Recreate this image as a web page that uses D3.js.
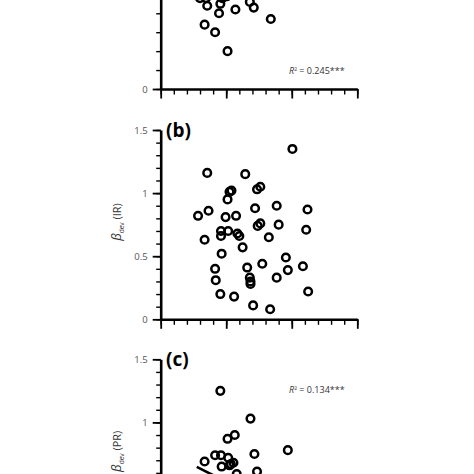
<!DOCTYPE html>
<html>
<head>
<meta charset="utf-8">
<script src="https://cdn.jsdelivr.net/npm/d3@7"></script>
<style>
  body { margin: 0; background: #fff; }
  text { font-family: "Open Sans", "Liberation Sans", sans-serif; }
</style>
</head>
<body>
<div id="canvas"></div>
<script>
// values (x has no visible labels, arbitrary 0..3 units)
var pointsA = [[0.71,0.44],[0.91,0.45],[0.89,0.40],[1.14,0.42],[1.36,0.46],[1.42,0.43],
  [1.68,0.37],[0.67,0.34],[0.83,0.30],[1.02,0.20],[0.60,0.48],[0.69,0.48],[0.94,0.48],[1.01,0.49]];

var pointsB = [[2.01,1.35],[0.71,1.16],[1.29,1.15],[1.52,1.05],[1.47,1.03],[1.08,1.02],
  [1.05,1.01],[1.02,0.95],[0.73,0.86],[0.57,0.82],[1.44,0.88],[1.77,0.90],[2.24,0.87],
  [1.15,0.82],[0.99,0.81],[1.80,0.75],[1.52,0.76],[1.48,0.74],[2.22,0.71],[0.92,0.70],
  [1.03,0.70],[0.92,0.66],[0.67,0.63],[1.17,0.68],[1.20,0.66],[1.65,0.65],[1.25,0.57],
  [0.93,0.52],[1.91,0.49],[1.55,0.44],[1.32,0.41],[0.83,0.40],[2.17,0.42],[1.94,0.39],
  [1.77,0.33],[0.84,0.31],[1.36,0.33],[1.37,0.30],[1.37,0.28],[2.25,0.22],[0.91,0.20],
  [1.12,0.18],[1.41,0.11],[1.67,0.08]];

var pointsC = [[0.91,1.25],[1.37,1.03],[1.13,0.90],[1.02,0.87],[1.94,0.78],[1.43,0.75],
  [0.67,0.69],[0.83,0.74],[0.92,0.74],[1.03,0.72],[1.11,0.68],[1.07,0.67],[0.93,0.65],
  [1.05,0.66],[1.47,0.61],[1.16,0.59],[1.20,0.55]];

var panelLabels = ["(a)", "(b)", "(c)"];
var yLabels = ["", "(IR)", "(PR)"];
var r2Labels = [" = 0.245***", "", " = 0.134***"];
var yDomains = [[0, 1], [0, 1.5], [0, 1.5]];
var yTickLabels = [[0], [0, 0.5, 1, 1.5], [0, 0.5, 1, 1.5]];
var yMinorStep = [0.1, 0.1, 0.1];
var xMajor = [0, 1, 2, 3];
var xMinorStep = 0.2;

// linear fit in panel (c)
var fitC = { from: 0.55, to: 2.2, intercept: 0.79, slope: -0.26 };

var W = 474, H = 474;
var svg = d3.select("#canvas").append("svg")
    .attr("width", W).attr("height", H);

var x = d3.scaleLinear().domain([0, 3]).range([160.7, 357.3]);
var panelTops = [-100.3, 130, 359.3], plotH = 189.3;

function inView(py) { return py > 6 && py < H - 6; }

function drawPanel(i, pts, fit) {
  var y = d3.scaleLinear().domain(yDomains[i])
      .range([panelTops[i] + plotH, panelTops[i]]);
  var g = svg.append("g");

  // minor ticks y
  var minorY = d3.range(yDomains[i][0], yDomains[i][1] + 1e-6, yMinorStep[i]);
  g.append("g")
      .attr("transform", "translate(" + x(0) + ",0)")
      .call(d3.axisLeft(y).tickValues(minorY).tickSize(4.5).tickFormat("").tickSizeOuter(0))
      .call(function(a) { a.select(".domain").remove(); a.selectAll("line").attr("stroke-width", 1.4); });

  // major y (only labels that land inside the window)
  var ya = g.append("g")
      .attr("transform", "translate(" + x(0) + ",0)")
      .call(d3.axisLeft(y).tickValues(yTickLabels[i]).tickSize(8).tickPadding(5)
        .tickFormat(d3.format("")).tickSizeOuter(0));
  ya.select(".domain").attr("stroke-width", 2.6);
  ya.selectAll("line").attr("stroke-width", 1.8);
  ya.selectAll("text").attr("font-size", 9.5).attr("fill", "#555");
  ya.selectAll(".tick").filter(function(d) { return !inView(y(d)); }).remove();

  // x axis
  var xMinor = d3.range(0, 3 + 1e-6, xMinorStep);
  g.append("g")
      .attr("transform", "translate(0," + y(0) + ")")
      .call(d3.axisBottom(x).tickValues(xMinor).tickSize(5.5).tickFormat("").tickSizeOuter(0))
      .call(function(a) { a.select(".domain").remove(); a.selectAll("line").attr("stroke-width", 1.4); });
  var xa = g.append("g")
      .attr("transform", "translate(0," + y(0) + ")")
      .call(d3.axisBottom(x).tickValues(xMajor).tickSize(9.5).tickFormat("").tickSizeOuter(0));
  xa.select(".domain").attr("stroke-width", 2.6);
  xa.selectAll("line").attr("stroke-width", 1.8);

  // panel label
  if (inView(panelTops[i])) {
    g.append("text")
        .attr("x", 166).attr("y", panelTops[i] + 7)
        .attr("font-size", 19).attr("font-weight", "bold")
        .text(panelLabels[i]);
  }

  // y label
  if (yLabels[i]) {
    var t = g.append("text")
        .attr("transform", "translate(121," + (panelTops[i] + 92) + ") rotate(-90)")
        .attr("text-anchor", "middle").attr("font-size", 11).attr("fill", "#333");
    t.append("tspan").attr("font-style", "italic").attr("font-size", 13).text("\u03B2");
    t.append("tspan").attr("font-size", 6.5).attr("dy", 2.5).text("dev");
    t.append("tspan").attr("dy", -2.5).text(" " + yLabels[i]);
  }

  // R2 note
  if (r2Labels[i]) {
    var ry = i === 0 ? y(0) - 15 : panelTops[i] + 34;
    var r = g.append("text").attr("x", 289).attr("y", ry)
        .attr("font-size", 9).attr("fill", "#333");
    r.append("tspan").attr("font-style", "italic").text("R");
    r.append("tspan").attr("font-size", 5).attr("dy", -3.5).text("2");
    r.append("tspan").attr("dy", 3.5).text(r2Labels[i]);
  }

  if (fit) {
    g.append("line")
        .attr("x1", x(fit.from)).attr("y1", y(fit.intercept + fit.slope * fit.from))
        .attr("x2", x(fit.to)).attr("y2", y(fit.intercept + fit.slope * fit.to))
        .attr("stroke", "#000").attr("stroke-width", 2.6);
  }

  g.append("g").selectAll("circle")
      .data(pts)
    .enter().append("circle")
      .attr("cx", function(d) { return x(d[0]); })
      .attr("cy", function(d) { return y(d[1]); })
      .attr("r", 3.8)
      .attr("fill", "none")
      .attr("stroke", "#000")
      .attr("stroke-width", 2.5);
}

drawPanel(0, pointsA, null);
drawPanel(1, pointsB, null);
drawPanel(2, pointsC, fitC);
</script>
</body>
</html>
